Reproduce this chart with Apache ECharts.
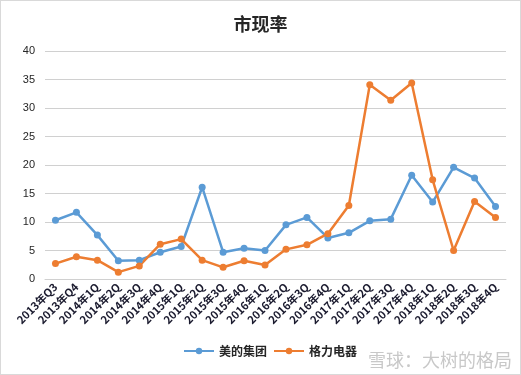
<!DOCTYPE html>
<html>
<head>
<meta charset="utf-8">
<script src="https://cdn.jsdelivr.net/npm/echarts@6/dist/echarts.min.js"></script>
<style>
  html, body { margin: 0; padding: 0; background: #fff; }
  #main { width: 519px; height: 373px; border: 1px solid #d9d9d9; }
</style>
</head>
<body>
<div id="main"></div>
<script>
// categories and values
const quarters = [
  "2013年Q3", "2013年Q4", "2014年1Q", "2014年2Q", "2014年3Q", "2014年4Q",
  "2015年1Q", "2015年2Q", "2015年3Q", "2015年4Q", "2016年1Q", "2016年2Q",
  "2016年3Q", "2016年4Q", "2017年1Q", "2017年2Q", "2017年3Q", "2017年4Q",
  "2018年1Q", "2018年2Q", "2018年3Q", "2018年4Q"
];
const midea = [10.3, 11.7, 7.7, 3.2, 3.3, 4.7, 5.7, 16.1, 4.7, 5.4, 5.0, 9.5,
  10.8, 7.2, 8.1, 10.2, 10.5, 18.2, 13.5, 19.6, 17.7, 12.7];
const gree = [2.7, 3.9, 3.3, 1.2, 2.3, 6.1, 7.0, 3.3, 2.05, 3.2, 2.45, 5.2,
  6.0, 7.95, 12.9, 34.1, 31.35, 34.4, 17.4, 5.0, 13.6, 10.8];
const seriesNames = ["美的集团", "格力电器"];
const seriesColors = ["#5B9BD5", "#ED7D31"];

const myChart = echarts.init(document.getElementById("main"));
const series = [midea, gree].map(function (d, i) {
  return {
    name: seriesNames[i],
    type: "line",
    data: d,
    symbol: "circle",
    symbolSize: 7,
    lineStyle: { width: 2.5, color: seriesColors[i] },
    itemStyle: { color: seriesColors[i] }
  };
});

const option = {
  animation: false,
  title: {
    text: "市现率",
    left: "center",
    top: 9,
    textStyle: { fontFamily: "Noto Sans CJK SC", fontSize: 18, fontWeight: "bold", color: "#262626" }
  },
  legend: {
    bottom: 12,
    left: 177,
    itemWidth: 30,
    itemHeight: 8,
    itemGap: 6,
    textStyle: { fontFamily: "Noto Sans CJK SC", fontSize: 12, fontWeight: "bold", color: "#262626" },
    data: seriesNames
  },
  grid: { left: 44, right: 14, top: 50, bottom: 95 },
  xAxis: {
    type: "category",
    data: quarters,
    axisLine: { lineStyle: { color: "#d0d0d0" } },
    axisTick: { show: false },
    axisLabel: {
      rotate: 45,
      interval: 0,
      margin: 6,
      fontFamily: "Noto Sans CJK SC",
      fontSize: 11,
      fontWeight: "bold",
      color: "#1a1a2e"
    }
  },
  yAxis: {
    type: "value",
    min: 0,
    max: 40,
    interval: 5,
    axisLine: { show: false },
    axisTick: { show: false },
    splitLine: { lineStyle: { color: "#d0d0d0", width: 1 } },
    axisLabel: { fontFamily: "Liberation Sans", fontSize: 11, color: "#262626", margin: 10 }
  },
  graphic: [
    {
      type: "text",
      right: 8,
      bottom: 5,
      style: {
        text: "雪球：大树的格局",
        fontFamily: "Noto Sans CJK SC",
        fontSize: 18,
        fill: "#c8c8c8"
      }
    }
  ],
  series: series
};
myChart.setOption(option);
</script>
</body>
</html>
